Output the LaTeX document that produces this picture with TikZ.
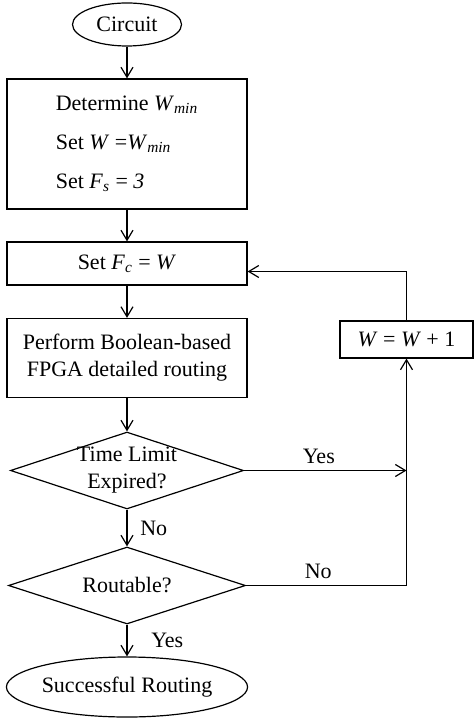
\documentclass[tikz,border=0pt]{standalone}
\usepackage{fontspec}
\setmainfont{Liberation Serif}
\usepackage{tikz}
\usetikzlibrary{shapes.geometric,arrows.meta,calc}

\begin{document}
\begin{tikzpicture}[x=0.5pt,y=-0.5pt,line width=0.6pt,
   >={Straight Barb[length=5pt,width=6pt]},
   every node/.style={font=\fontsize{11pt}{13.5pt}\selectfont},
   terminal/.style={draw,ellipse,inner sep=0pt},
   process/.style={draw,rectangle,inner sep=0pt,minimum width=120pt},
   decision/.style={draw,diamond,aspect=3,inner sep=-2pt,align=center,minimum height=38.5pt}]
   \useasboundingbox (0,0) rectangle (474,721);

   \node[terminal,minimum width=54.5pt,minimum height=21.5pt] (circuit) at (127,24.5) {Circuit};
   \node[process,minimum height=65pt,align=left] (init) at (127,144)
      {Determine \textit{W}\textsubscript{\textit{min}}\\[6pt]
       Set \textit{W} =\textit{W}\textsubscript{\textit{min}}\\[6pt]
       Set \textit{F}\textsubscript{\textit{s}} = \textit{3}};
   \node[process,minimum height=21.5pt] (setfc) at (127,263.5)
      {Set \textit{F}\textsubscript{\textit{c}} = \textit{W}};
   \node[process,minimum height=39.5pt,align=center] (perform) at (127,358)
      {Perform Boolean-based\\FPGA detailed routing};
   \node[draw,inner sep=0pt,minimum width=66.5pt,minimum height=18.5pt] (wbox) at (406.5,339.5)
      {\textit{W} = \textit{W} + 1};
   \node[decision,minimum width=116.5pt] (expired) at (127,470.5) {Time Limit\\Expired?};
   \node[decision,minimum width=118.5pt] (routable) at (127,585.5) {Routable?};
   \node[terminal,minimum width=108pt,minimum height=30pt] (done) at (127,687) {Successful Routing};

   \coordinate (yesend) at (wbox.south |- expired.east);
   \coordinate (noturn) at (wbox.south |- routable.east);

   \draw[->] (circuit) -- (init);
   \draw[->] (init) -- (setfc);
   \draw[->] (setfc) -- (perform);
   \draw[->] (perform) -- (expired);
   \draw[->] (expired) -- node[right=3pt]{No} (routable);
   \draw[->] (routable) -- node[right=8.5pt]{Yes} (done);
   \draw[->] (expired) -- node[above,pos=.46]{Yes} (yesend);
   \draw (routable) -- node[above,pos=.45]{No} (noturn);
   \draw[->] (noturn) -- (wbox);
   \draw[->] (wbox) |- ([yshift=-4pt]setfc.east);
\end{tikzpicture}
\end{document}
